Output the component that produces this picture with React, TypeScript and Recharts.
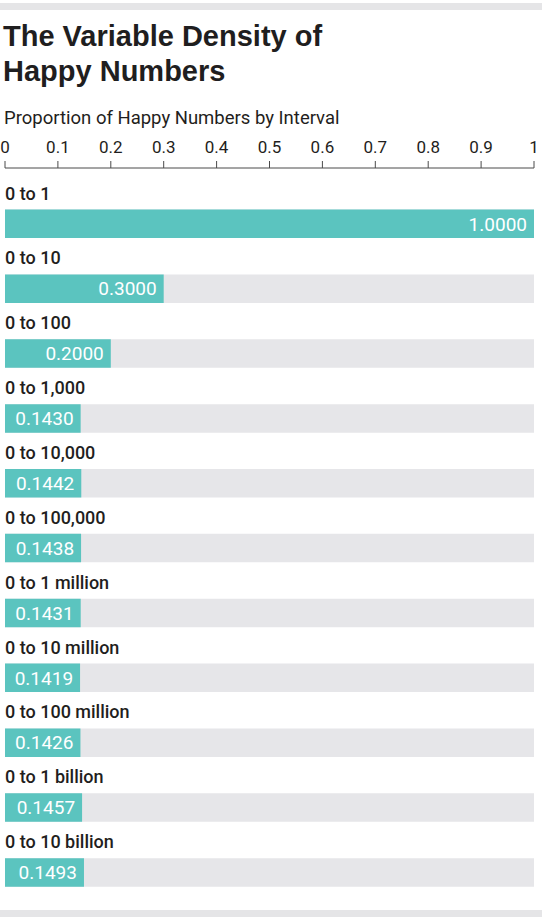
import React from 'react';
import { BarChart, Bar, XAxis, YAxis, LabelList } from 'recharts';

const intervals = [
  '0 to 1',
  '0 to 10',
  '0 to 100',
  '0 to 1,000',
  '0 to 10,000',
  '0 to 100,000',
  '0 to 1 million',
  '0 to 10 million',
  '0 to 100 million',
  '0 to 1 billion',
  '0 to 10 billion',
];
const proportions = [1.0, 0.3, 0.2, 0.143, 0.1442, 0.1438, 0.1431, 0.1419, 0.1426, 0.1457, 0.1493];
const axisTicks = [0, 0.1, 0.2, 0.3, 0.4, 0.5, 0.6, 0.7, 0.8, 0.9, 1];

const chartData = intervals.map((name, i) => ({ name, value: proportions[i] }));

const TEAL = '#5bc4bf';
const TRACK = '#e6e6e9';
const INK = '#1f1e20';

const IntervalLabel = (props: any) => {
  const { x, y, value } = props;
  return (
    <text x={x} y={y - 10} fill={INK} fontSize={18} fontWeight={500} fontFamily="Roboto, sans-serif">
      {value}
    </text>
  );
};

const App: React.FC = () => {
  return (
    <div style={{ position: 'relative', width: 542, height: 923, background: '#fff', overflow: 'hidden' }}>
      <style>{`body { margin: 0; }`}</style>
      <div style={{ position: 'absolute', left: 0, top: 3, width: 542, height: 7, background: '#e5e5e7' }} />
      <div
        style={{
          position: 'absolute',
          left: 3,
          top: 19,
          fontFamily: '"Liberation Sans", Arial, sans-serif',
          fontWeight: 700,
          fontSize: 29,
          lineHeight: '35px',
          color: INK,
        }}
      >
        The Variable Density of
        <br />
        Happy Numbers
      </div>
      <div
        style={{
          position: 'absolute',
          left: 4,
          top: 107,
          fontFamily: 'Roboto, sans-serif',
          fontSize: 18.5,
          lineHeight: '22px',
          color: INK,
        }}
      >
        Proportion of Happy Numbers by Interval
      </div>
      <div style={{ position: 'absolute', left: 0, top: 0 }}>
        <BarChart
          width={542}
          height={923}
          data={chartData}
          layout="vertical"
          margin={{ top: 138, right: 8, bottom: 18, left: 5 }}
          barSize={28.5}
        >
          <XAxis
            type="number"
            orientation="top"
            domain={[0, 1]}
            ticks={axisTicks}
            height={30}
            tickSize={7}
            tickMargin={8}
            interval={0}
            axisLine={{ stroke: '#4a4a4a' }}
            tickLine={{ stroke: '#4a4a4a' }}
            tick={{ fill: INK, fontSize: 17, fontFamily: 'Roboto, sans-serif' }}
          />
          <YAxis type="category" dataKey="name" hide padding={{ top: 23.6, bottom: 0 }} />
          <Bar dataKey="value" fill={TEAL} background={{ fill: TRACK }} isAnimationActive={false}>
            <LabelList dataKey="name" content={<IntervalLabel />} />
            <LabelList
              dataKey="value"
              position="insideRight"
              offset={7}
              fill="#ffffff"
              fontSize={19}
              fontFamily="Roboto, sans-serif"
              formatter={(v: any) => Number(v).toFixed(4)}
            />
          </Bar>
        </BarChart>
      </div>
      <div style={{ position: 'absolute', left: 0, top: 910, width: 542, height: 7, background: '#e5e5e7' }} />
    </div>
  );
};

export default App;
